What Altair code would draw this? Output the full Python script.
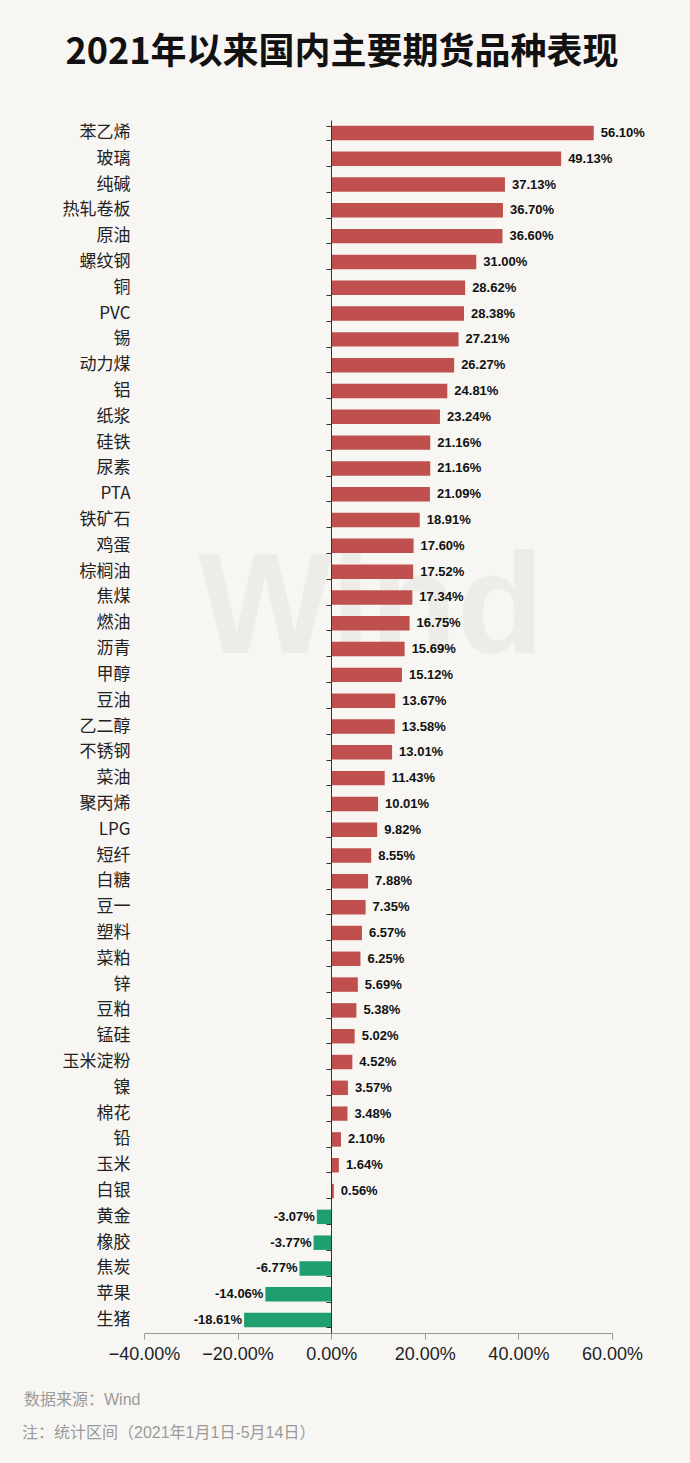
import altair as alt
import pandas as pd

title_text = "2021年以来国内主要期货品种表现"
categories = ["苯乙烯", "玻璃", "纯碱", "热轧卷板", "原油", "螺纹钢", "铜", "PVC", "锡", "动力煤",
              "铝", "纸浆", "硅铁", "尿素", "PTA", "铁矿石", "鸡蛋", "棕榈油", "焦煤", "燃油",
              "沥青", "甲醇", "豆油", "乙二醇", "不锈钢", "菜油", "聚丙烯", "LPG", "短纤", "白糖",
              "豆一", "塑料", "菜粕", "锌", "豆粕", "锰硅", "玉米淀粉", "镍", "棉花", "铅",
              "玉米", "白银", "黄金", "橡胶", "焦炭", "苹果", "生猪"]
values = [56.10, 49.13, 37.13, 36.70, 36.60, 31.00, 28.62, 28.38, 27.21, 26.27,
          24.81, 23.24, 21.16, 21.16, 21.09, 18.91, 17.60, 17.52, 17.34, 16.75,
          15.69, 15.12, 13.67, 13.58, 13.01, 11.43, 10.01, 9.82, 8.55, 7.88,
          7.35, 6.57, 6.25, 5.69, 5.38, 5.02, 4.52, 3.57, 3.48, 2.10,
          1.64, 0.56, -3.07, -3.77, -6.77, -14.06, -18.61]
x_ticks = [-40, -20, 0, 20, 40, 60]
source_note = "数据来源：Wind"
period_note = "注：统计区间（2021年1月1日-5月14日）"
watermark = "Wind"

FONT = "Liberation Sans, Arial, Noto Sans CJK SC"
BG = "#f7f6f3"
W, H = 468, 1213
LEFT, TOP = 144, 120

df = pd.DataFrame({"name": categories, "value": values})
df["sign"] = ["pos" if v >= 0 else "neg" for v in values]
df["label"] = [f"{v:.2f}%" for v in values]

y_scale = alt.Scale(paddingInner=0.44, paddingOuter=0.22)
x_scale = alt.Scale(domain=[-40, 60], nice=False, zero=False)

base = alt.Chart(df)

wm = alt.Chart(pd.DataFrame({"t": [watermark]})).mark_text(
    font="Liberation Sans", fontSize=142, fontWeight="bold", color="#eeece8",
    align="center", baseline="middle"
).encode(text="t:N", x=alt.value(227), y=alt.value(490))

bars = base.mark_bar().encode(
    y=alt.Y("name:N", sort=categories, scale=y_scale, title=None,
            axis=alt.Axis(orient="left", domain=False, ticks=False, labelPadding=14,
                          labelFont="Noto Sans CJK SC", labelFontSize=17, labelColor="#222222")),
    x=alt.X("value:Q", scale=x_scale, title=None,
            axis=alt.Axis(values=x_ticks, labelExpr="format(datum.value, '.2f') + '%'",
                          grid=False, domainColor="#9a9a9a", tickColor="#9a9a9a", tickSize=6,
                          labelOverlap=False, labelFlush=False,
                          labelFont=FONT, labelFontSize=18, labelColor="#222222", labelPadding=6)),
    color=alt.Color("sign:N", scale=alt.Scale(domain=["pos", "neg"], range=["#c0504d", "#1f9e70"]),
                    legend=None),
)

pos_labels = base.transform_filter("datum.value >= 0").mark_text(
    align="left", baseline="middle", dx=7, font=FONT, fontSize=13, fontWeight="bold", color="#111111"
).encode(y=alt.Y("name:N", sort=categories, axis=None),
         x="value:Q", text="label:N")

neg_labels = base.transform_filter("datum.value < 0").mark_text(
    align="right", baseline="middle", dx=-2, font=FONT, fontSize=13, fontWeight="bold", color="#111111"
).encode(y=alt.Y("name:N", sort=categories, axis=None),
         x="value:Q", text="label:N")

zero_axis = base.mark_point(opacity=0).encode(
    y=alt.Y("name:N", sort=categories, title=None,
            axis=alt.Axis(orient="left", offset=-round(W * 0.4), labels=False, domain=True,
                          domainColor="#333333", ticks=True, tickColor="#333333", tickSize=5,
                          tickBand="extent", zindex=2)),
    x="value:Q",
)

notes = alt.Chart(pd.DataFrame({"t": [source_note]})).mark_text(
    font=FONT, fontSize=16, color="#9a9a9a", align="left", baseline="middle"
).encode(text="t:N", x=alt.value(-120), y=alt.value(1280))

notes2 = alt.Chart(pd.DataFrame({"t": [period_note]})).mark_text(
    font=FONT, fontSize=16, color="#9a9a9a", align="left", baseline="middle"
).encode(text="t:N", x=alt.value(-122), y=alt.value(1313))

chart = alt.layer(wm, bars, pos_labels, neg_labels, zero_axis, notes, notes2).resolve_axis(
    y="independent"
).properties(
    width=W, height=H,
    title=alt.Title(title_text, font="Noto Sans CJK SC", fontSize=36, fontWeight="bold",
                    color="#111111", anchor="middle", dx=-(LEFT + W / 2 - 342), offset=48),
    background=BG,
    padding={"left": LEFT, "top": TOP, "right": 690 - LEFT - W, "bottom": 1463 - TOP - H},
    autosize=alt.AutoSizeParams(type="none"),
).configure_view(stroke=None)

chart.save("out.html", embed_options={"renderer": "svg", "actions": False})
